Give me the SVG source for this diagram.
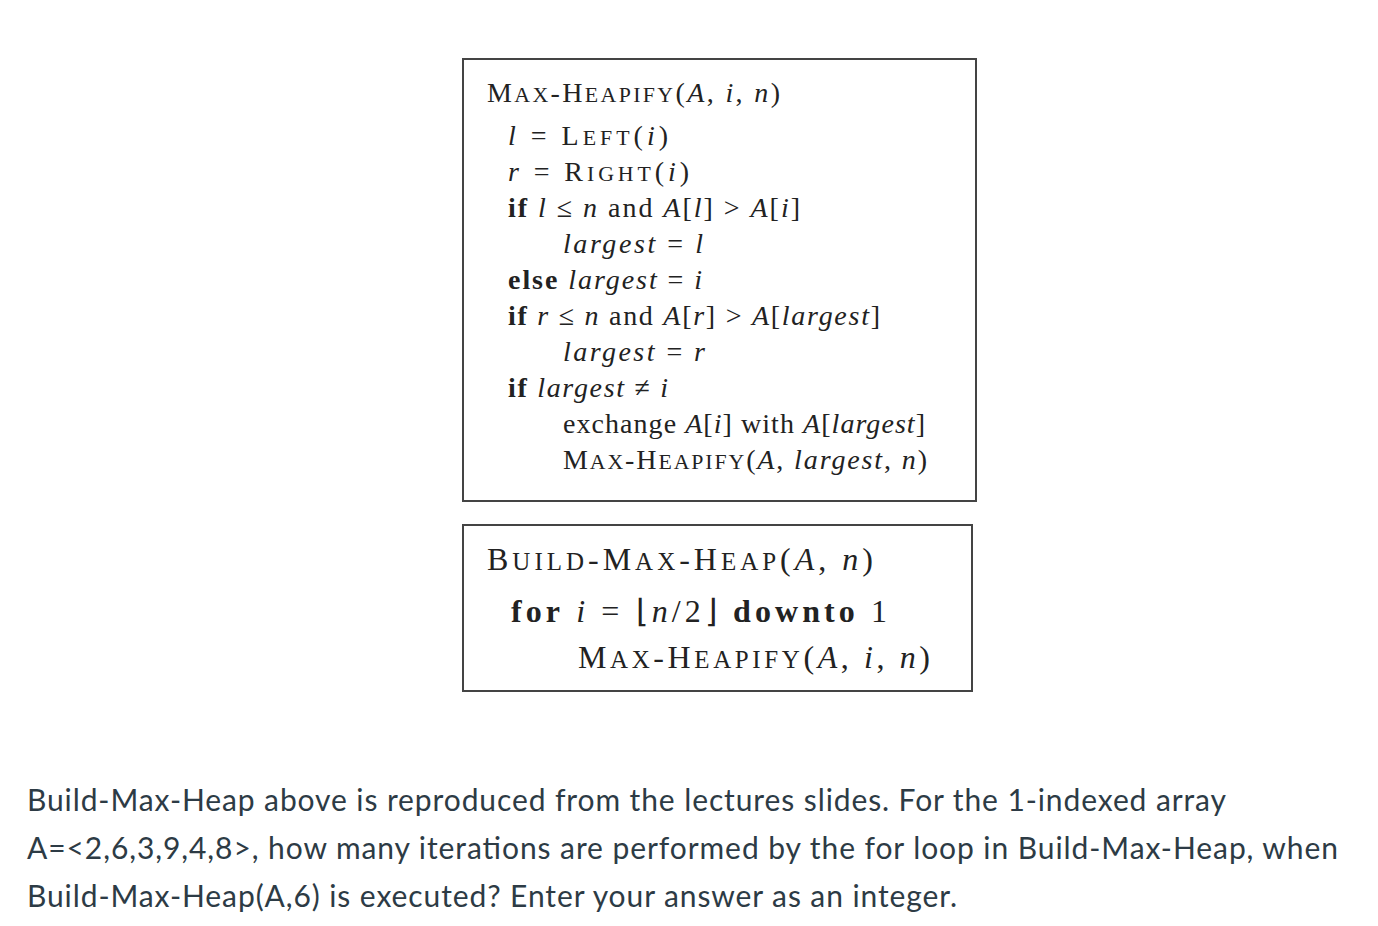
<svg xmlns="http://www.w3.org/2000/svg" width="1378" height="926" viewBox="0 0 1378 926">
<style>
.b{fill:none;stroke:#444;stroke-width:2}
.c{font-family:"Liberation Serif",serif;font-size:28px;fill:#222}
.c2{font-family:"Liberation Serif",serif;font-size:32px;fill:#222}
.sc{font-size:0.78em}
.i{font-style:italic}
.bd{font-weight:bold}
.q{font-family:Lato,"Liberation Sans",sans-serif;font-size:30px;fill:#2d3b45}
</style>
<rect width="1378" height="926" fill="#fff"/>
<rect class="b" x="463" y="59" width="513" height="442"/>
<rect class="b" x="463" y="525" width="509" height="166"/>
<g class="c">
<text x="487" y="102" textLength="293">M<tspan class="sc">AX</tspan>-H<tspan class="sc">EAPIFY</tspan>(<tspan class="i">A</tspan>, <tspan class="i">i</tspan>, <tspan class="i">n</tspan>)</text>
<text x="508" y="145" textLength="160"><tspan class="i">l</tspan> = L<tspan class="sc">EFT</tspan>(<tspan class="i">i</tspan>)</text>
<text x="508" y="181" textLength="181"><tspan class="i">r</tspan> = R<tspan class="sc">IGHT</tspan>(<tspan class="i">i</tspan>)</text>
<text x="508" y="217" textLength="292"><tspan class="bd">if</tspan> <tspan class="i">l</tspan> ≤ <tspan class="i">n</tspan> and <tspan class="i">A</tspan>[<tspan class="i">l</tspan>] &gt; <tspan class="i">A</tspan>[<tspan class="i">i</tspan>]</text>
<text x="563" y="253" textLength="140"><tspan class="i">largest</tspan> = <tspan class="i">l</tspan></text>
<text x="508" y="289" textLength="194"><tspan class="bd">else</tspan> <tspan class="i">largest</tspan> = <tspan class="i">i</tspan></text>
<text x="508" y="325" textLength="372"><tspan class="bd">if</tspan> <tspan class="i">r</tspan> ≤ <tspan class="i">n</tspan> and <tspan class="i">A</tspan>[<tspan class="i">r</tspan>] &gt; <tspan class="i">A</tspan>[<tspan class="i">largest</tspan>]</text>
<text x="563" y="361" textLength="142"><tspan class="i">largest</tspan> = <tspan class="i">r</tspan></text>
<text x="508" y="397" textLength="160"><tspan class="bd">if</tspan> <tspan class="i">largest</tspan> ≠ <tspan class="i">i</tspan></text>
<text x="563" y="433" textLength="362">exchange <tspan class="i">A</tspan>[<tspan class="i">i</tspan>] with <tspan class="i">A</tspan>[<tspan class="i">largest</tspan>]</text>
<text x="563" y="469" textLength="364">M<tspan class="sc">AX</tspan>-H<tspan class="sc">EAPIFY</tspan>(<tspan class="i">A</tspan>, <tspan class="i">largest</tspan>, <tspan class="i">n</tspan>)</text>
</g>
<g class="c2">
<text x="487" y="570" textLength="386">B<tspan class="sc">UILD</tspan>-M<tspan class="sc">AX</tspan>-H<tspan class="sc">EAP</tspan>(<tspan class="i">A</tspan>, <tspan class="i">n</tspan>)</text>
<text x="511" y="622" textLength="376"><tspan class="bd">for</tspan> <tspan class="i">i</tspan> = ⌊<tspan class="i">n</tspan>/2⌋ <tspan class="bd">downto</tspan> 1</text>
<text x="578" y="668" textLength="352">M<tspan class="sc">AX</tspan>-H<tspan class="sc">EAPIFY</tspan>(<tspan class="i">A</tspan>, <tspan class="i">i</tspan>, <tspan class="i">n</tspan>)</text>
</g>
<g class="q">
<text x="27" y="811" textLength="1199">Build-Max-Heap above is reproduced from the lectures slides. For the 1-indexed array</text>
<text x="27" y="859" textLength="1311">A=&lt;2,6,3,9,4,8&gt;, how many iterations are performed by the for loop in Build-Max-Heap, when</text>
<text x="27" y="907" textLength="930">Build-Max-Heap(A,6) is executed? Enter your answer as an integer.</text>
</g>
</svg>
